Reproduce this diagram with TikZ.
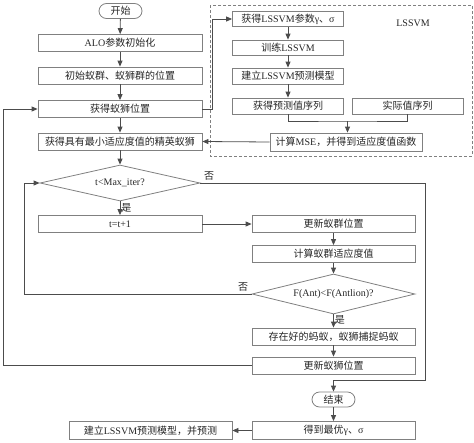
\documentclass[tikz,border=0pt]{standalone}
\usepackage{fontspec}
\setmainfont{Liberation Serif}
\newfontfamily\cjk{Noto Sans CJK SC}
\newcommand{\zh}[1]{{\cjk #1}}
\usetikzlibrary{shapes.geometric,arrows.meta}
\definecolor{boxc}{gray}{0.5}
\definecolor{linec}{gray}{0.3}
\definecolor{txtc}{gray}{0.15}
\tikzset{
  base/.style={draw=boxc,line width=0.8pt,inner sep=0pt,text=txtc,font=\fontsize{10}{12}\selectfont,anchor=center},
  mainbox/.style={base,minimum width=164pt,minimum height=17pt},
  lsbox/.style={base,minimum width=111pt,minimum height=15pt},
  term/.style={base,rounded corners=7.5pt,minimum width=43pt,minimum height=15pt},
  dec/.style={base,diamond,aspect=4.4,minimum height=36pt},
  conn/.style={draw=linec,line width=0.8pt,-{Triangle[length=6pt,width=5pt]}},
  plain/.style={draw=linec,line width=0.8pt},
  lbl/.style={text=txtc,font=\fontsize{10}{12}\selectfont,inner sep=0pt},
}
\begin{document}
\begin{tikzpicture}[x=1pt,y=-1pt]
\useasboundingbox (0,0) rectangle (474,442);
% LSSVM group frame
\draw[boxc,densely dashed,line width=0.7pt] (210,5) rectangle (472,156);
\node[lbl] (lstitle) at (413,23) {LSSVM};
% main column
\node[term] (start) at (120.5,11) {\zh{开始}};
\node[mainbox] (alo) at (120,43) {ALO\zh{参数初始化}};
\node[mainbox] (init) at (120,75.5) {\zh{初始蚁群、蚁狮群的位置}};
\node[mainbox] (getpos) at (120,109) {\zh{获得蚁狮位置}};
\node[mainbox] (elite) at (120,141.5) {\zh{获得具有最小适应度值的精英蚁狮}};
\node[dec,minimum width=160pt] (dia1) at (120,183) {t<Max\_iter?};
\node[mainbox] (tinc) at (120,224) {t=t+1};
% right column
\node[mainbox,minimum width=163pt] (updant) at (333.5,224) {\zh{更新蚁群位置}};
\node[mainbox,minimum width=163pt] (calc) at (333.5,254) {\zh{计算蚁群适应度值}};
\node[dec,minimum width=163pt,minimum height=40pt] (dia2) at (333.5,294) {F(Ant)<F(Antlion)?};
\node[mainbox,minimum width=163pt] (exist) at (333.5,336.5) {\zh{存在好的蚂蚁，蚁狮捕捉蚂蚁}};
\node[mainbox,minimum width=163pt] (updlion) at (333.5,365.5) {\zh{更新蚁狮位置}};
\node[term] (stop) at (333.5,399.5) {\zh{结束}};
\node[mainbox,minimum width=163pt,minimum height=18pt] (best) at (333.5,430.5) {\zh{得到最优}γ\zh{、}σ};
\node[mainbox,minimum width=163pt,minimum height=18pt] (build) at (150.5,430.5) {\zh{建立}LSSVM\zh{预测模型，并预测}};
% LSSVM boxes
\node[lsbox] (p1) at (288,19) {\zh{获得}LSSVM\zh{参数}γ\zh{、}σ};
\node[lsbox] (p2) at (288,47.5) {\zh{训练}LSSVM};
\node[lsbox,minimum height=16pt] (p3) at (288,76) {\zh{建立}LSSVM\zh{预测模型}};
\node[lsbox,minimum height=16pt] (p4) at (288,106) {\zh{获得预测值序列}};
\node[lsbox,minimum height=16pt] (p5) at (407.5,106) {\zh{实际值序列}};
\node[base,minimum width=152pt,minimum height=18pt] (p6) at (346,142) {\zh{计算}MSE\zh{，并得到适应度值函数}};
\coordinate (merge) at (347.5,121);
% main flow
\draw[conn] (start) -- (alo);
\draw[conn] (alo) -- (init);
\draw[conn] (init) -- (getpos);
\draw[conn] (getpos) -- (elite);
\draw[conn] (elite) -- (dia1.north);
\draw[conn] (dia1.south) -- node[lbl,right=1pt,pos=0.45] (yes1) {\zh{是}} (tinc);
\draw[conn] (tinc) -- (updant);
\draw[conn] (updant) -- (calc);
\draw[conn] (calc) -- (dia2.north);
\draw[conn] (dia2.south) -- node[lbl,right=1pt,pos=0.45] (yes2) {\zh{是}} (exist);
\draw[conn] (exist) -- (updlion);
\draw[conn] (dia2.west) -- (24,294) |- (dia1.west);
\node[lbl] (no2) at (243,287) {\zh{否}};
\draw[conn] (dia1.east) -- (425,183) -- (425,380) -| (stop.north);
\node[lbl] (no1) at (209,176) {\zh{否}};
\draw[conn] (updlion.west) -- (3,365.5) |- (getpos.west);
\draw[conn] (stop) -- (best);
\draw[conn] (best) -- (build);
% LSSVM flow
\draw[conn] (getpos.east) -- (212,109) |- (p1.west);
\draw[conn] (p1) -- (p2);
\draw[conn] (p2) -- (p3);
\draw[conn] (p3) -- (p4);
\draw[plain] (p4.south) |- (merge) -| (p5.south);
\draw[conn] (merge) -- (p6.north -| merge);
\draw[conn] (p6.west) -- (elite.east);
\end{tikzpicture}
\end{document}
